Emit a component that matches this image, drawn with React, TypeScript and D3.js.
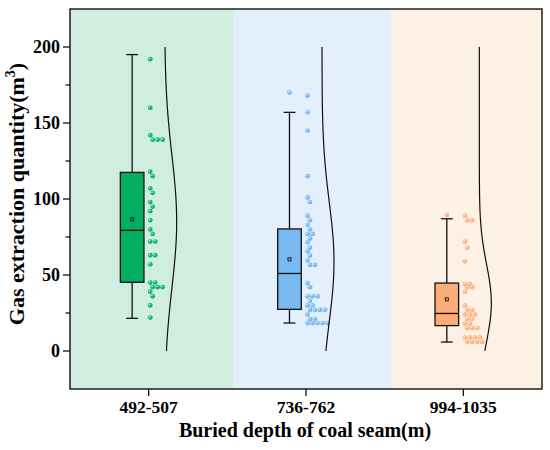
import * as d3 from "d3";

const categories = ["492-507", "736-762", "994-1035"];

const greenValues = [192, 160, 142, 139, 139, 139, 118, 115, 107, 104, 98, 95, 92, 86, 80, 77, 72, 72, 63, 63, 57, 45, 45, 42, 42, 42, 39, 36, 30, 22];
const blueValues = [168, 157, 145, 115, 101, 98, 89, 86, 83, 80, 77, 77, 74, 71.5, 68, 65.6, 62.7, 59.6, 56.6, 56.6, 44.7, 42, 36, 36, 36, 33, 30, 30, 27, 27, 27, 27, 24, 21, 21, 18.4, 18.4, 18.4, 18.4, 18.4];
const peachValues = [89, 86, 86, 72, 68, 59, 44, 44, 42, 42, 39, 30, 27, 27, 24, 24, 24, 21, 21, 18, 18, 15, 15, 15, 9, 9, 9, 9, 6, 6, 6, 6];

// box statistics as drawn
const whiskerLow = [21.5, 18.4, 5.9];
const q1 = [45.2, 27.4, 16.7];
const median = [79.4, 51, 24.7];
const q3 = [117.5, 80.3, 44.7];
const whiskerHigh = [195, 157, 87];
const means = [86.6, 60.3, 34];
const outliers = [[], [170], [89.5]];

const yMajor = [0, 50, 100, 150, 200];
const yMinor = [25, 75, 125, 175];
const bandEdges = [0.5, 1.54, 2.54, 3.5];

const boxFill = ["#00b060", "#79b9f2", "#fbad77"];
const dotFill = ["#12b771", "#7cb9f3", "#fdb487"];
const bgFill = ["#d0eee0", "#e3effb", "#fdf0e4"];

const font = "'Times New Roman', 'Liberation Serif', serif";

export default function App() {
  const width = 550;
  const height = 450;
  const left = 70, right = 542, top = 9, bottom = 389;

  const x = d3.scaleLinear().domain([0.5, 3.5]).range([left, right]);
  const y = d3.scaleLinear().domain([-25, 225]).range([bottom, top]);

  const groups = [greenValues, blueValues, peachValues];
  const boxW = x(0.15) - x(0);
  const capW = boxW / 2;

  const dots = groups.flatMap((vals, gi) => {
    const distinct = Array.from(new Set(vals)).sort((a, b) => b - a);
    let parity = 0;
    let prev: number | null = null;
    const out: { cx: number; cy: number; gi: number }[] = [];
    distinct.forEach((v) => {
      parity = prev !== null && prev - v < 5 ? 1 - parity : 0;
      prev = v;
      const n = vals.filter((d) => d === v).length;
      for (let k = 0; k < n; k++) {
        out.push({ cx: x(gi + 1) + 1.6 + parity * 2.4 + k * 5, cy: y(v), gi });
      }
    });
    return out;
  });

  const grid = d3.range(0, 200.01, 2);
  const curves = groups.map((vals, gi) => {
    const m = d3.mean(vals) as number;
    const s = d3.deviation(vals) as number;
    const pdf = grid.map((v) => Math.exp(-((v - m) ** 2) / (2 * s * s)));
    const base = x(gi + 1) + 16;
    const line = d3
      .line<number>()
      .x((_, i) => base + pdf[i] * 12)
      .y((v) => y(v))
      .curve(d3.curveBasis);
    return line(grid) as string;
  });

  return (
    <svg width={width} height={height} style={{ position: "absolute", left: 0, top: 0 }} fontFamily={font}>
      <defs>
        {dotFill.map((c, i) => (
          <radialGradient key={i} id={`ball${i}`} cx="0.35" cy="0.35" r="0.7">
            <stop offset="0" stopColor="#ffffff" />
            <stop offset="0.35" stopColor={c} />
            <stop offset="1" stopColor={c} />
          </radialGradient>
        ))}
      </defs>
      <rect width={width} height={height} fill="#ffffff" />

      {bgFill.map((c, i) => (
        <rect key={i} x={x(bandEdges[i])} y={top} width={x(bandEdges[i + 1]) - x(bandEdges[i])} height={bottom - top} fill={c} />
      ))}

      {categories.map((_, i) => {
        const cx = x(i + 1 - 0.105);
        return (
          <g key={i} stroke="#111" strokeWidth={1.3}>
            <line x1={cx} x2={cx} y1={y(whiskerHigh[i])} y2={y(q3[i])} />
            <line x1={cx} x2={cx} y1={y(q1[i])} y2={y(whiskerLow[i])} />
            <line x1={cx - capW / 2} x2={cx + capW / 2} y1={y(whiskerHigh[i])} y2={y(whiskerHigh[i])} />
            <line x1={cx - capW / 2} x2={cx + capW / 2} y1={y(whiskerLow[i])} y2={y(whiskerLow[i])} />
            <rect x={cx - boxW / 2} y={y(q3[i])} width={boxW} height={y(q1[i]) - y(q3[i])} fill={boxFill[i]} />
            <line x1={cx - boxW / 2} x2={cx + boxW / 2} y1={y(median[i])} y2={y(median[i])} />
            <rect x={cx - 1.5} y={y(means[i]) - 1.5} width={3} height={3} fill="none" strokeWidth={0.9} />
            {outliers[i].map((v, k) => (
              <circle key={k} cx={cx} cy={y(v)} r={2.4} fill={`url(#ball${i})`} stroke="none" />
            ))}
          </g>
        );
      })}

      {dots.map((d, i) => (
        <circle key={i} cx={d.cx} cy={d.cy} r={2.4} fill={`url(#ball${d.gi})`} />
      ))}

      {curves.map((p, i) => (
        <path key={i} d={p} fill="none" stroke="#111" strokeWidth={1.2} />
      ))}

      <rect x={left} y={top} width={right - left} height={bottom - top} fill="none" stroke="#111" strokeWidth={1.4} />

      {yMajor.map((v) => (
        <g key={v}>
          <line x1={left - 7} x2={left} y1={y(v)} y2={y(v)} stroke="#111" strokeWidth={1.3} />
          <text x={60} y={y(v)} dy="0.35em" textAnchor="end" fontSize={18} fontWeight="bold">
            {v}
          </text>
        </g>
      ))}
      {yMinor.map((v) => (
        <line key={v} x1={left - 4.5} x2={left} y1={y(v)} y2={y(v)} stroke="#111" strokeWidth={1.3} />
      ))}

      {categories.map((c, i) => (
        <g key={c}>
          <line x1={x(i + 1)} x2={x(i + 1)} y1={bottom} y2={bottom + 7} stroke="#111" strokeWidth={1.3} />
          <text x={x(i + 1)} y={413} textAnchor="middle" fontSize={17.5} fontWeight="bold">
            {c}
          </text>
        </g>
      ))}

      <text x={305} y={437} textAnchor="middle" fontSize={20} fontWeight="bold">
        Buried depth of coal seam(m)
      </text>
      <text transform="translate(24,194) rotate(-90)" textAnchor="middle" fontSize={22} fontWeight="bold">
        Gas extraction quantity(m<tspan dy={-9} fontSize={14}>3</tspan>
        <tspan dy={9}>)</tspan>
      </text>
    </svg>
  );
}
